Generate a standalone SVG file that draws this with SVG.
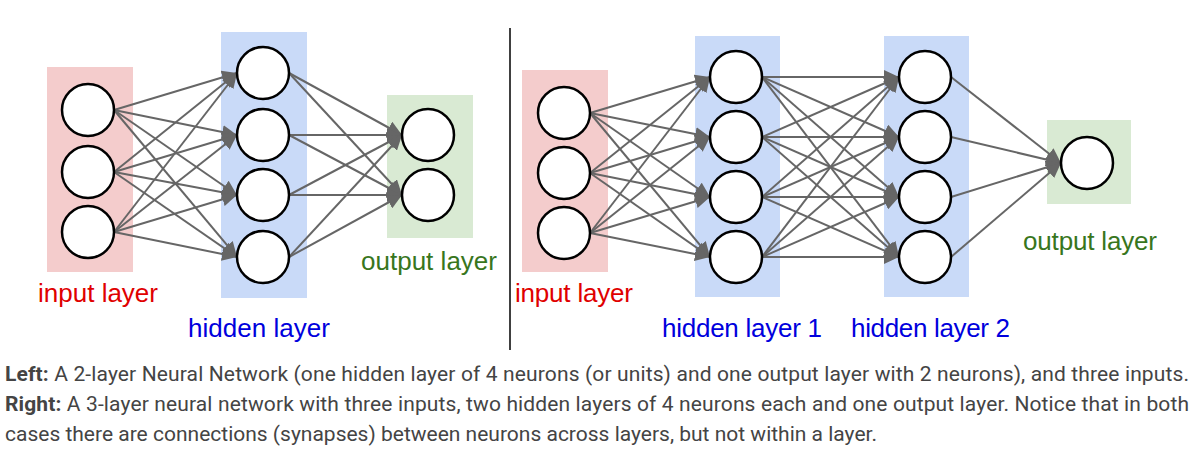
<svg xmlns="http://www.w3.org/2000/svg" width="1200" height="456" viewBox="0 0 1200 456">
<defs>
<style>
.c{fill:#fff;stroke:#000;stroke-width:2.5}
.e line{stroke:#666;stroke-width:2}
.lbl{font-family:Arial,"Liberation Sans",sans-serif;font-size:26px}
.cap{font-family:Roboto,"Liberation Sans",sans-serif;font-size:21px;fill:#444}
</style>
<marker id="a" markerUnits="userSpaceOnUse" markerWidth="16" markerHeight="14" refX="15" refY="7" orient="auto"><path d="M0,0 L15,7 L0,14 z" fill="#666"/></marker>
</defs>
<rect width="1200" height="456" fill="#fff"/>
<g id="bg">
<rect x="47" y="67" width="86" height="205" fill="#f4cccc"/>
<rect x="221" y="32" width="86" height="266" fill="#c9daf8"/>
<rect x="387" y="95" width="86" height="143" fill="#d9ead3"/>
<rect x="522" y="70" width="86" height="202" fill="#f4cccc"/>
<rect x="695" y="36" width="85" height="261" fill="#c9daf8"/>
<rect x="884" y="36" width="85" height="261" fill="#c9daf8"/>
<rect x="1047" y="120" width="84" height="84" fill="#d9ead3"/>
<line x1="510" y1="28" x2="510" y2="350" stroke="#000" stroke-width="1.5"/>
</g>
<g id="connectors" class="e">
<line x1="114" y1="110" x2="237" y2="73" marker-end="url(#a)"/><line x1="114" y1="110" x2="237" y2="135" marker-end="url(#a)"/><line x1="114" y1="110" x2="237" y2="195" marker-end="url(#a)"/><line x1="114" y1="110" x2="237" y2="257" marker-end="url(#a)"/>
<line x1="114" y1="172" x2="237" y2="73" marker-end="url(#a)"/><line x1="114" y1="172" x2="237" y2="135" marker-end="url(#a)"/><line x1="114" y1="172" x2="237" y2="195" marker-end="url(#a)"/><line x1="114" y1="172" x2="237" y2="257" marker-end="url(#a)"/>
<line x1="114" y1="232" x2="237" y2="73" marker-end="url(#a)"/><line x1="114" y1="232" x2="237" y2="135" marker-end="url(#a)"/><line x1="114" y1="232" x2="237" y2="195" marker-end="url(#a)"/><line x1="114" y1="232" x2="237" y2="257" marker-end="url(#a)"/>
<line x1="289" y1="73" x2="402" y2="135" marker-end="url(#a)"/><line x1="289" y1="73" x2="402" y2="195" marker-end="url(#a)"/>
<line x1="289" y1="135" x2="402" y2="135" marker-end="url(#a)"/><line x1="289" y1="135" x2="402" y2="195" marker-end="url(#a)"/>
<line x1="289" y1="195" x2="402" y2="135" marker-end="url(#a)"/><line x1="289" y1="195" x2="402" y2="195" marker-end="url(#a)"/>
<line x1="289" y1="257" x2="402" y2="135" marker-end="url(#a)"/><line x1="289" y1="257" x2="402" y2="195" marker-end="url(#a)"/>
<line x1="590" y1="113" x2="710" y2="77" marker-end="url(#a)"/><line x1="590" y1="113" x2="710" y2="137" marker-end="url(#a)"/><line x1="590" y1="113" x2="710" y2="197" marker-end="url(#a)"/><line x1="590" y1="113" x2="710" y2="257" marker-end="url(#a)"/>
<line x1="590" y1="173" x2="710" y2="77" marker-end="url(#a)"/><line x1="590" y1="173" x2="710" y2="137" marker-end="url(#a)"/><line x1="590" y1="173" x2="710" y2="197" marker-end="url(#a)"/><line x1="590" y1="173" x2="710" y2="257" marker-end="url(#a)"/>
<line x1="590" y1="233" x2="710" y2="77" marker-end="url(#a)"/><line x1="590" y1="233" x2="710" y2="137" marker-end="url(#a)"/><line x1="590" y1="233" x2="710" y2="197" marker-end="url(#a)"/><line x1="590" y1="233" x2="710" y2="257" marker-end="url(#a)"/>
<line x1="762" y1="77" x2="899" y2="77" marker-end="url(#a)"/><line x1="762" y1="77" x2="899" y2="137" marker-end="url(#a)"/><line x1="762" y1="77" x2="899" y2="197" marker-end="url(#a)"/><line x1="762" y1="77" x2="899" y2="257" marker-end="url(#a)"/>
<line x1="762" y1="137" x2="899" y2="77" marker-end="url(#a)"/><line x1="762" y1="137" x2="899" y2="137" marker-end="url(#a)"/><line x1="762" y1="137" x2="899" y2="197" marker-end="url(#a)"/><line x1="762" y1="137" x2="899" y2="257" marker-end="url(#a)"/>
<line x1="762" y1="197" x2="899" y2="77" marker-end="url(#a)"/><line x1="762" y1="197" x2="899" y2="137" marker-end="url(#a)"/><line x1="762" y1="197" x2="899" y2="197" marker-end="url(#a)"/><line x1="762" y1="197" x2="899" y2="257" marker-end="url(#a)"/>
<line x1="762" y1="257" x2="899" y2="77" marker-end="url(#a)"/><line x1="762" y1="257" x2="899" y2="137" marker-end="url(#a)"/><line x1="762" y1="257" x2="899" y2="197" marker-end="url(#a)"/><line x1="762" y1="257" x2="899" y2="257" marker-end="url(#a)"/>
<line x1="951" y1="77" x2="1061" y2="163" marker-end="url(#a)"/><line x1="951" y1="137" x2="1061" y2="163" marker-end="url(#a)"/><line x1="951" y1="197" x2="1061" y2="163" marker-end="url(#a)"/><line x1="951" y1="257" x2="1061" y2="163" marker-end="url(#a)"/>
</g>
<g id="left-input"><circle class="c" cx="88" cy="110" r="26"/><circle class="c" cx="88" cy="172" r="26"/><circle class="c" cx="88" cy="232" r="26"/></g>
<g id="left-hidden"><circle class="c" cx="263" cy="73" r="26"/><circle class="c" cx="263" cy="135" r="26"/><circle class="c" cx="263" cy="195" r="26"/><circle class="c" cx="263" cy="257" r="26"/></g>
<g id="left-output"><circle class="c" cx="428" cy="135" r="26"/><circle class="c" cx="428" cy="195" r="26"/></g>
<g id="right-input"><circle class="c" cx="564" cy="113" r="26"/><circle class="c" cx="564" cy="173" r="26"/><circle class="c" cx="564" cy="233" r="26"/></g>
<g id="right-hidden1"><circle class="c" cx="736" cy="77" r="26"/><circle class="c" cx="736" cy="137" r="26"/><circle class="c" cx="736" cy="197" r="26"/><circle class="c" cx="736" cy="257" r="26"/></g>
<g id="right-hidden2"><circle class="c" cx="925" cy="77" r="26"/><circle class="c" cx="925" cy="137" r="26"/><circle class="c" cx="925" cy="197" r="26"/><circle class="c" cx="925" cy="257" r="26"/></g>
<g id="right-output"><circle class="c" cx="1087" cy="163" r="26"/></g>
<g id="labels" class="lbl">
<text x="38" y="302" fill="#e00000" textLength="120">input layer</text>
<text x="188" y="337" fill="#0000dd" textLength="142">hidden layer</text>
<text x="361" y="270" fill="#38761d" textLength="136">output layer</text>
<text x="515" y="302" fill="#e00000" textLength="118">input layer</text>
<text x="662" y="337" fill="#0000dd" textLength="160">hidden layer 1</text>
<text x="851" y="337" fill="#0000dd" textLength="159">hidden layer 2</text>
<text x="1023" y="250" fill="#38761d" textLength="134">output layer</text>
</g>
<g id="caption" class="cap">
<text x="5" y="381" textLength="1184"><tspan font-weight="bold">Left:</tspan> A 2-layer Neural Network (one hidden layer of 4 neurons (or units) and one output layer with 2 neurons), and three inputs.</text>
<text x="5" y="411" textLength="1184"><tspan font-weight="bold">Right:</tspan> A 3-layer neural network with three inputs, two hidden layers of 4 neurons each and one output layer. Notice that in both</text>
<text x="5" y="441">cases there are connections (synapses) between neurons across layers, but not within a layer.</text>
</g>
</svg>
